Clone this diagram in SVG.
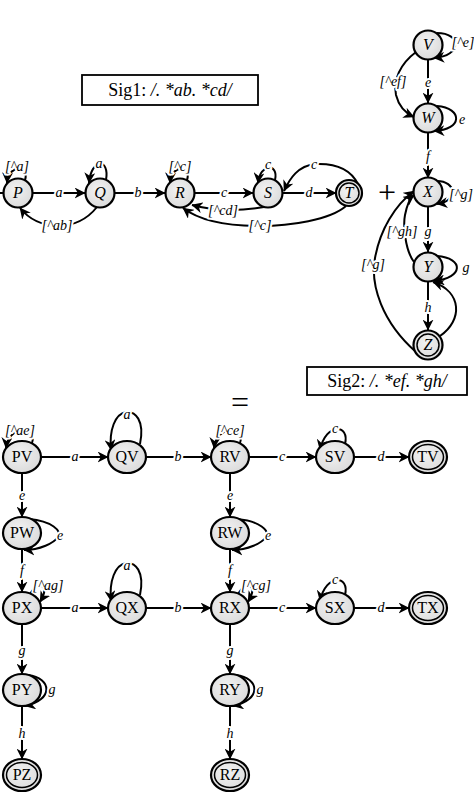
<svg xmlns="http://www.w3.org/2000/svg" width="474" height="801" viewBox="0 0 474 801" font-family="'Liberation Serif', 'DejaVu Serif', serif">
<defs>
<marker id="ah" markerUnits="userSpaceOnUse" markerWidth="11" markerHeight="11" viewBox="0 0 10 10" refX="9.5" refY="5" orient="auto">
<path d="M0,0 L10,5 L0,10 L3,5 z" fill="#000"/>
</marker>
<radialGradient id="nf" cx="0.42" cy="0.4" r="0.65">
<stop offset="0" stop-color="#f2f2f2"/>
<stop offset="1" stop-color="#dadada"/>
</radialGradient>
</defs>
<style>
.n{fill:url(#nf);stroke:#000;stroke-width:2.2}
.n2{fill:none;stroke:#000;stroke-width:1.5}
.e{fill:none;stroke:#000;stroke-width:2;marker-end:url(#ah)}
.p{fill:none;stroke:#000;stroke-width:2}
text{font-family:'Liberation Serif','DejaVu Serif',serif}
.l{font-style:italic;font-size:14px;text-anchor:middle;paint-order:stroke;stroke:#fff;stroke-width:4px;stroke-linejoin:round;fill:#000}
.t1{font-style:italic;font-size:16px;text-anchor:middle}
.t2{font-size:16px;text-anchor:middle}
.sig{font-size:18px;text-anchor:middle}
.box{fill:#fff;stroke:#000;stroke-width:1.8}
.sym{font-size:32px;text-anchor:middle}
</style>
<rect width="474" height="801" fill="#fff"/>

<g id="sig1"><rect class="box" x="82" y="75" width="176" height="30"/><text class="sig" x="170" y="96">Sig1: <tspan font-style="italic">/. *ab. *cd/</tspan></text></g>
<g id="sig2"><rect class="box" x="307" y="367" width="160" height="28"/><text class="sig" x="387" y="387">Sig2: <tspan font-style="italic">/. *ef. *gh/</tspan></text></g>
<text class="sym" x="387" y="203">+</text>
<text class="sym" x="240" y="413">=</text>

<g id="connectors">
<path class="p" d="M-2,193 L3,193"/>
<path class="e" d="M33,193 L85,193"/>
<path class="e" d="M115,193 L165,193"/>
<path class="e" d="M195,193 L253,193"/>
<path class="e" d="M283,193 L336,193"/>
<path class="e" d="M25,180 C30,165 8,164 7,183"/>
<path class="e" d="M106,180 C110,158 91,158 89,183"/>
<path class="e" d="M187,180 C192,165 171,164 170,183"/>
<path class="e" d="M275,180 C279,163 260,163 258,183"/>
<path class="e" d="M358,184 C350,168 335,163 315,164 C298,166 290,178 284,191"/>
<path class="e" d="M264,207 Q225,214 192,205"/>
<path class="e" d="M346,206 C330,220 290,226 260,226 C225,226 200,221 183,208"/>
<path class="e" d="M97,207 C85,222 70,226 57,226 C40,225 28,218 20,208"/>
<text class="l" x="59" y="197">a</text>
<text class="l" x="138" y="197">b</text>
<text class="l" x="224" y="197">c</text>
<text class="l" x="309" y="197">d</text>
<text class="l" x="17" y="171">[^a]</text>
<text class="l" x="99" y="168">a</text>
<text class="l" x="180" y="171">[^c]</text>
<text class="l" x="268" y="169">c</text>
<text class="l" x="314" y="169">c</text>
<text class="l" x="223" y="215">[^cd]</text>
<text class="l" x="260" y="230">[^c]</text>
<text class="l" x="57" y="230">[^ab]</text>
<path class="e" d="M428,59 L428,103"/>
<path class="e" d="M437,33 C462,33 462,56 434,58"/>
<path class="e" d="M437,106 C463,108 463,130 434,131"/>
<path class="e" d="M416,52 C400,64 393,80 396,95 C399,107 405,113 414,117"/>
<path class="e" d="M428,132 L428,178"/>
<path class="e" d="M437,181 C456,181 459,201 437,204"/>
<path class="e" d="M428,206 L428,252"/>
<path class="e" d="M437,256 C464,258 464,278 434,281"/>
<path class="e" d="M414,262 C405,250 403,225 405,215 C407,205 410,198 414,195"/>
<path class="e" d="M428,282 L428,330"/>
<path class="e" d="M440,336 C463,320 462,292 433,282"/>
<path class="e" d="M416,352 C382,322 370,285 375,258 C380,230 395,205 414,191"/>
<text class="l" x="463" y="47">[^e]</text>
<text class="l" x="428" y="87">e</text>
<text class="l" x="462" y="124">e</text>
<text class="l" x="393" y="86">[^ef]</text>
<text class="l" x="428" y="161">f</text>
<text class="l" x="461" y="199">[^g]</text>
<text class="l" x="428" y="236">g</text>
<text class="l" x="466" y="272">g</text>
<text class="l" x="402" y="236">[^gh]</text>
<text class="l" x="428" y="312">h</text>
<text class="l" x="373" y="269">[^g]</text>
<path class="e" d="M41,457 L108,457"/>
<path class="e" d="M146,457 L211,457"/>
<path class="e" d="M249,457 L316,457"/>
<path class="e" d="M354,457 L409,457"/>
<path class="e" d="M32,443 C38,426 8,425 6,448"/>
<path class="e" d="M140,444 C145,420 135,411 126,412 C115,414 109,430 111,450"/>
<path class="e" d="M240,443 C246,426 216,425 214,448"/>
<path class="e" d="M345,444 C350,424 326,422 320,450"/>
<path class="e" d="M22,473 L22,517"/>
<path class="e" d="M230,473 L230,517"/>
<path class="e" d="M29,519 C52,521 62,531 58,537 C54,543 40,550 24,550"/>
<path class="e" d="M237,519 C260,521 270,531 266,537 C262,543 248,550 232,550"/>
<path class="e" d="M22,549 L22,592"/>
<path class="e" d="M230,549 L230,592"/>
<path class="e" d="M30,594 C36,582 52,582 40,602"/>
<path class="e" d="M238,594 C244,582 260,582 248,602"/>
<path class="e" d="M41,608 L108,608"/>
<path class="e" d="M146,608 L211,608"/>
<path class="e" d="M249,608 L316,608"/>
<path class="e" d="M354,608 L409,608"/>
<path class="e" d="M140,595 C145,571 135,562 126,563 C115,565 109,581 111,601"/>
<path class="e" d="M345,595 C350,575 326,573 320,601"/>
<path class="e" d="M22,624 L22,674"/>
<path class="e" d="M230,624 L230,674"/>
<path class="e" d="M28,675 C52,678 54,700 25,706"/>
<path class="e" d="M236,675 C260,678 262,700 233,706"/>
<path class="e" d="M22,706 L22,759"/>
<path class="e" d="M230,706 L230,759"/>
<text class="l" x="75" y="461">a</text>
<text class="l" x="178" y="461">b</text>
<text class="l" x="282" y="461">c</text>
<text class="l" x="381" y="461">d</text>
<text class="l" x="20" y="435">[^ae]</text>
<text class="l" x="127" y="419">a</text>
<text class="l" x="230" y="435">[^ce]</text>
<text class="l" x="335" y="433">c</text>
<text class="l" x="22" y="500">e</text>
<text class="l" x="230" y="500">e</text>
<text class="l" x="60" y="540">e</text>
<text class="l" x="268" y="540">e</text>
<text class="l" x="22" y="575">f</text>
<text class="l" x="230" y="575">f</text>
<text class="l" x="48" y="590">[^ag]</text>
<text class="l" x="256" y="590">[^cg]</text>
<text class="l" x="75" y="612">a</text>
<text class="l" x="178" y="612">b</text>
<text class="l" x="282" y="612">c</text>
<text class="l" x="381" y="612">d</text>
<text class="l" x="127" y="570">a</text>
<text class="l" x="335" y="584">c</text>
<text class="l" x="22" y="655">g</text>
<text class="l" x="230" y="655">g</text>
<text class="l" x="52" y="694">g</text>
<text class="l" x="260" y="694">g</text>
<text class="l" x="22" y="738">h</text>
<text class="l" x="230" y="738">h</text>
</g>

<g id="P"><circle class="n" cx="18" cy="193" r="14.5"/><text class="t1" x="18" y="198">P</text></g>
<g id="Q"><circle class="n" cx="100" cy="193" r="14.5"/><text class="t1" x="100" y="198">Q</text></g>
<g id="R"><circle class="n" cx="180" cy="193" r="14.5"/><text class="t1" x="180" y="198">R</text></g>
<g id="S"><circle class="n" cx="268" cy="193" r="14.5"/><text class="t1" x="268" y="198">S</text></g>
<g id="T"><circle class="n" cx="349" cy="193" r="13"/><circle class="n2" cx="349" cy="193" r="10"/><text class="t1" x="349" y="198">T</text></g>

<g id="V"><circle class="n" cx="428" cy="45" r="14.5"/><text class="t1" x="428" y="50">V</text></g>
<g id="W"><circle class="n" cx="428" cy="118" r="14.5"/><text class="t1" x="428" y="123">W</text></g>
<g id="X"><circle class="n" cx="428" cy="192" r="14.5"/><text class="t1" x="428" y="197">X</text></g>
<g id="Y"><circle class="n" cx="428" cy="267" r="14.5"/><text class="t1" x="428" y="272">Y</text></g>
<g id="Z"><circle class="n" cx="428" cy="345" r="14.5"/><circle class="n2" cx="428" cy="345" r="11"/><text class="t1" x="428" y="350">Z</text></g>

<g id="PV"><ellipse class="n" cx="22" cy="457" rx="19" ry="16"/><text class="t2" x="22" y="462">PV</text></g>
<g id="QV"><ellipse class="n" cx="127" cy="457" rx="19" ry="16"/><text class="t2" x="127" y="462">QV</text></g>
<g id="RV"><ellipse class="n" cx="230" cy="457" rx="19" ry="16"/><text class="t2" x="230" y="462">RV</text></g>
<g id="SV"><ellipse class="n" cx="335" cy="457" rx="19" ry="16"/><text class="t2" x="335" y="462">SV</text></g>
<g id="TV"><ellipse class="n" cx="428" cy="457" rx="19" ry="16"/><ellipse class="n2" cx="428" cy="457" rx="15.5" ry="12.5"/><text class="t2" x="428" y="462">TV</text></g>
<g id="PW"><ellipse class="n" cx="22" cy="533" rx="19" ry="16"/><text class="t2" x="22" y="538">PW</text></g>
<g id="RW"><ellipse class="n" cx="230" cy="533" rx="19" ry="16"/><text class="t2" x="230" y="538">RW</text></g>
<g id="PX"><ellipse class="n" cx="22" cy="608" rx="19" ry="16"/><text class="t2" x="22" y="613">PX</text></g>
<g id="QX"><ellipse class="n" cx="127" cy="608" rx="19" ry="16"/><text class="t2" x="127" y="613">QX</text></g>
<g id="RX"><ellipse class="n" cx="230" cy="608" rx="19" ry="16"/><text class="t2" x="230" y="613">RX</text></g>
<g id="SX"><ellipse class="n" cx="335" cy="608" rx="19" ry="16"/><text class="t2" x="335" y="613">SX</text></g>
<g id="TX"><ellipse class="n" cx="428" cy="608" rx="19" ry="16"/><ellipse class="n2" cx="428" cy="608" rx="15.5" ry="12.5"/><text class="t2" x="428" y="613">TX</text></g>
<g id="PY"><ellipse class="n" cx="22" cy="690" rx="19" ry="16"/><text class="t2" x="22" y="695">PY</text></g>
<g id="RY"><ellipse class="n" cx="230" cy="690" rx="19" ry="16"/><text class="t2" x="230" y="695">RY</text></g>
<g id="PZ"><ellipse class="n" cx="22" cy="775" rx="19" ry="16"/><ellipse class="n2" cx="22" cy="775" rx="15.5" ry="12.5"/><text class="t2" x="22" y="780">PZ</text></g>
<g id="RZ"><ellipse class="n" cx="230" cy="775" rx="19" ry="16"/><ellipse class="n2" cx="230" cy="775" rx="15.5" ry="12.5"/><text class="t2" x="230" y="780">RZ</text></g>
</svg>
